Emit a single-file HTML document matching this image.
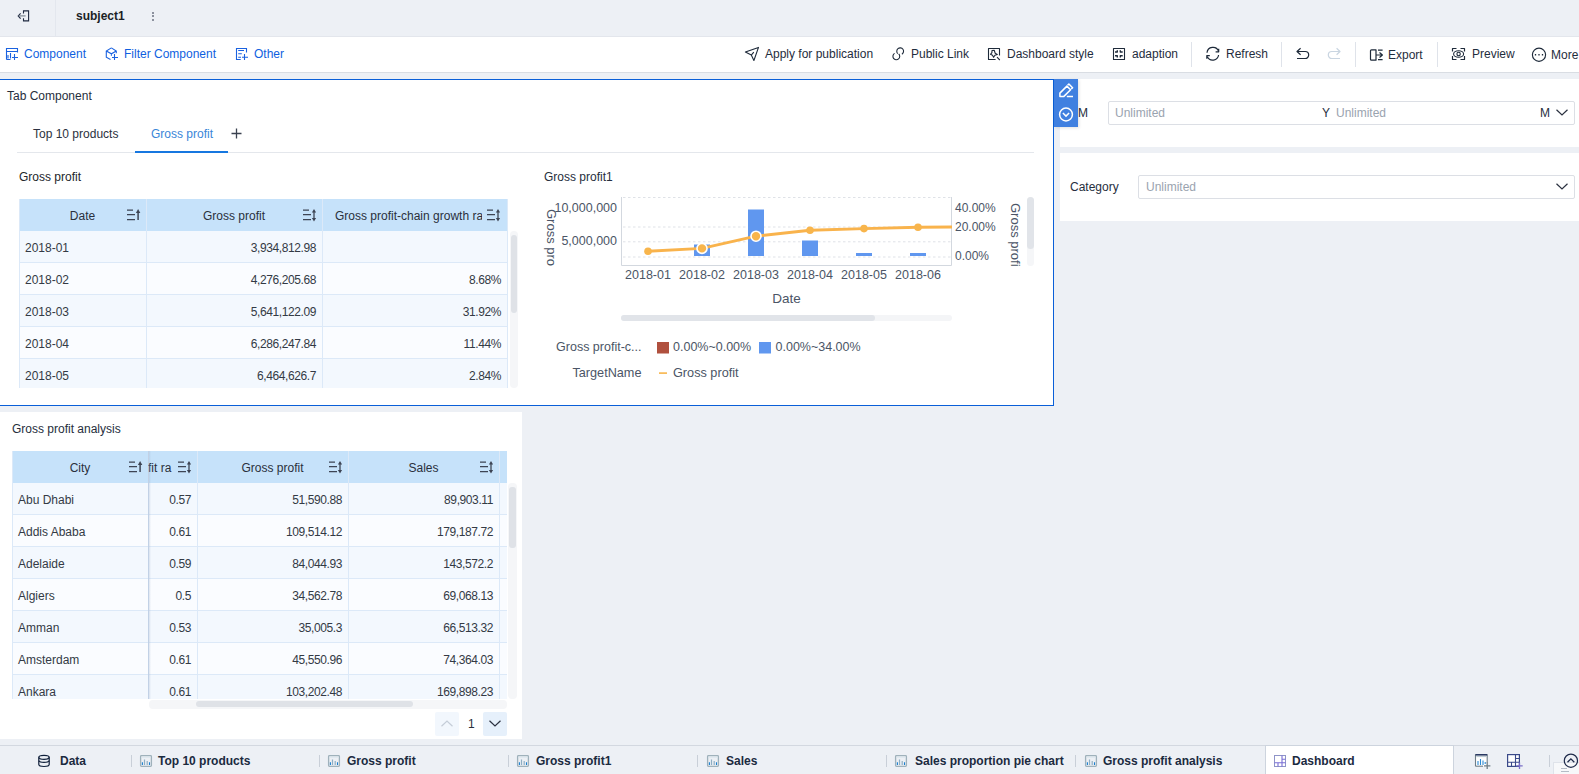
<!DOCTYPE html>
<html><head><meta charset="utf-8">
<style>
*{box-sizing:border-box;margin:0;padding:0}
html,body{width:1579px;height:774px;overflow:hidden;background:#edf0f5;font-family:"Liberation Sans",sans-serif;font-size:12px;color:#262e3d}
.a{position:absolute}
.t{position:absolute;white-space:nowrap;line-height:14px}
svg{position:absolute;overflow:visible}
#hdr{left:0;top:0;width:1579px;height:37px;background:#edf0f5}
#tb{left:0;top:36px;width:1579px;height:37px;background:#fff;border-top:1px solid #e3e6ec;border-bottom:1px solid #d9dde3}
.blue{color:#0f5fe0}
.dk{color:#1f2d3d}
.num{letter-spacing:-0.4px}
.num{letter-spacing:-0.4px}
.num{letter-spacing:-0.4px}
.num{letter-spacing:-0.4px}
.num{letter-spacing:-0.4px}
.sep{position:absolute;width:1px;background:#dfe3ea}
</style></head><body>
<!-- header -->
<div id="hdr" class="a">
  <div class="a" style="left:55px;top:0;width:1px;height:37px;background:#e3e7ee"></div>
  <svg style="left:0;top:0" width="60" height="36" viewBox="0 0 60 36" fill="none" stroke-width="1.1">
    <path d="M23.5 13.6V10.9H28.6V20.9H23.5V18.2" stroke="#1f2940"/>
    <path d="M20.6 13.3L18.2 15.9L20.6 18.6" stroke="#1f2940"/><path d="M18.6 15.9H25.6" stroke="#7d8791" stroke-width="1.2"/>
  </svg>
  <div class="t" style="left:76px;top:9px;font-weight:700;font-size:12px;color:#1b1f26">subject1</div>
  <div class="a" style="left:152px;top:11.5px;width:2px;height:2px;background:#6b7280;border-radius:1px"></div>
  <div class="a" style="left:152px;top:15px;width:2px;height:2px;background:#6b7280;border-radius:1px"></div>
  <div class="a" style="left:152px;top:18.5px;width:2px;height:2px;background:#6b7280;border-radius:1px"></div>
</div>
<!-- toolbar -->
<div id="tb" class="a"></div>
<!-- toolbar left -->
<div class="t blue" style="left:24px;top:47px">Component</div>
<div class="t blue" style="left:124px;top:47px">Filter Component</div>
<div class="t blue" style="left:254px;top:47px">Other</div>
<!-- toolbar right -->
<div class="t dk" style="left:765px;top:47px">Apply for publication</div>
<div class="t dk" style="left:911px;top:47px">Public Link</div>
<div class="t dk" style="left:1007px;top:47px">Dashboard style</div>
<div class="t dk" style="left:1132px;top:47px">adaption</div>
<div class="sep" style="left:1191px;top:42px;height:25px"></div>
<div class="t dk" style="left:1226px;top:47px">Refresh</div>
<div class="sep" style="left:1281px;top:42px;height:25px"></div>
<div class="sep" style="left:1355px;top:42px;height:25px"></div>
<div class="t dk" style="left:1388px;top:48px">Export</div>
<div class="sep" style="left:1437px;top:42px;height:25px"></div>
<div class="t dk" style="left:1472px;top:47px">Preview</div>
<div class="t dk" style="left:1551px;top:48px">More</div>
<svg style="left:0;top:0" width="1579" height="80" viewBox="0 0 1579 80" fill="none" stroke-width="1.1">
 <g stroke="#1a62e0">
  <!-- component -->
  <path d="M6.5 59.5V48.5H17.5V52.5M6.5 51.5H17.5M6.5 59.5H10.5M8 55V58.5M10.5 53V58.5M14.5 54V60M12 57.5H18" />
  <!-- filter component -->
  <path d="M111.4 47.9L116.3 51V53.3M111.4 47.9L106.3 51V57.2L110.5 59.5M106.3 51L111.4 53.8L116.3 51M111.4 53.8V55.8M114.5 54V60M112 57.5H118"/>
  <!-- other -->
  <path d="M240.7 59.5H236.5V48.5H246.5V52.5M238.2 50.5H244M238.2 53.7H241.8M238.2 57.3H241M244.5 54V60M242 57.3H248"/>
 </g>
 <g stroke="#1e2a3a" stroke-linejoin="round">
  <path d="M745.4 52L758.5 47.4L753.9 60.5L751.3 55.1Z"/><path d="M751.3 55.1L753.8 52.2"/>
  <path d="M897.8 53.7A3.4 3.4 0 1 1 901.9 54.2"/>
  <path d="M894.6 53.4A3.4 3.4 0 1 0 898.7 53.9"/>
  <path d="M999.5 55.6V48.5H988.5V59.5H995.6M997 57.2L999.8 60M994.2 50.3L995.2 53.2L997.3 54.4L994.9 55.3L993.6 57.3L992.5 55.2L990.5 54.3L991.9 52.6L992 50.5Z"/>
  <path d="M1113.5 48.5H1124.5V59.5H1113.5Z"/><path d="M1115 52H1117.3V50.2M1122.7 52H1120.3V50.2M1115 55.7H1117.3V57.6M1122.7 55.7H1120.3V57.6" stroke-width="1.4"/>
  <path d="M1207 52.8A6 6 0 0 1 1218.6 51.3M1215.6 51.8H1218.7V48.7M1218.6 55A6 6 0 0 1 1207.3 56.8M1209.8 55.6H1206.8V58.8" stroke-width="1.2"/>
  <path d="M1300.6 48.3L1297 51.5L1300.6 54.7M1297 51.5H1305.2A3.5 3.5 0 0 1 1305.2 58.5H1297" stroke-width="1.2"/>
  <path d="M1336.6 48.3L1340 51.5L1336.6 54.7M1340 51.5H1331.8A3.5 3.5 0 0 0 1331.8 58.5H1340" stroke="#c9d5e1" stroke-width="1.2"/>
  <path d="M1376 49.8H1371.5Q1370.5 49.8 1370.5 50.8V59.2Q1370.5 60.2 1371.5 60.2H1376ZM1378 50.2H1382.6M1378 59.6H1382.6M1376.5 55H1382.2M1379.5 52.5L1382.4 55L1379.5 57.5" stroke-width="1.2"/>
  <path d="M1452.5 51.5V48.5H1456.5M1460.5 48.5H1464.5V51.5M1464.5 56V59.5H1460.5M1456.5 59.5H1452.5V56" stroke-width="1.2"/>
  <ellipse cx="1458.6" cy="54" rx="5" ry="3.2"/><circle cx="1458.6" cy="54" r="1.7"/>
  <circle cx="1539" cy="54.7" r="6.6" stroke-width="1.15"/>
  <path d="M1535.5 54V55.5M1539 54V55.5M1542.5 54V55.5" stroke-width="1.3"/>
 </g>
</svg>
<!-- GENERATED -->
<!-- canvas: tab component -->
<div class="a" style="left:-1px;top:79px;width:1055px;height:327px;background:#fff;border:1px solid #0a5fd8"></div>
<div class="t" style="left:7px;top:89px;color:#262e3d">Tab Component</div>
<div class="a" style="left:17px;top:152px;width:1017px;height:1px;background:#e4e7ec"></div>
<div class="t" style="left:33px;top:127px;color:#2b3140">Top 10 products</div>
<div class="t" style="left:151px;top:127px;color:#3a86d8">Gross profit</div>
<div class="a" style="left:135px;top:151px;width:93px;height:2px;background:#1677e0"></div>
<svg style="left:231px;top:128px" width="11" height="11" viewBox="0 0 11 11" stroke="#3b4250" stroke-width="1.3"><path d="M5.5 0.5v10M0.5 5.5h10"/></svg>
<!-- right filter panels -->
<div class="a" style="left:1060px;top:79px;width:519px;height:68px;background:#fff"></div>
<div class="t" style="left:1078px;top:106px;color:#262e3d">M</div>
<div class="a" style="left:1108px;top:101px;width:467px;height:24px;border:1px solid #dcdfe5;border-radius:2px;background:#fff"></div>
<div class="t" style="left:1115px;top:106px;color:#9aa3af">Unlimited</div>
<div class="t" style="left:1322px;top:106px;color:#262e3d">Y</div>
<div class="t" style="left:1336px;top:106px;color:#9aa3af">Unlimited</div>
<div class="t" style="left:1540px;top:106px;color:#262e3d">M</div>
<svg style="left:1556px;top:109px" width="12" height="7" viewBox="0 0 12 7" fill="none" stroke="#2b3140" stroke-width="1.2"><path d="M0.5 0.7L6 6l5.5-5.3"/></svg>
<div class="a" style="left:1060px;top:153px;width:519px;height:68px;background:#fff"></div>
<div class="t" style="left:1070px;top:180px;color:#262e3d">Category</div>
<div class="a" style="left:1138px;top:175px;width:437px;height:24px;border:1px solid #dcdfe5;border-radius:2px;background:#fff"></div>
<div class="t" style="left:1146px;top:180px;color:#9aa3af">Unlimited</div>
<svg style="left:1556px;top:183px" width="12" height="7" viewBox="0 0 12 7" fill="none" stroke="#2b3140" stroke-width="1.2"><path d="M0.5 0.7L6 6l5.5-5.3"/></svg>
<!-- side buttons -->
<div class="a" style="left:1054px;top:79px;width:24px;height:48px;background:#4080e0;box-shadow:1px 1px 3px rgba(0,0,0,.12)"></div>
<svg style="left:0;top:0" width="1579" height="130" viewBox="0 0 1579 130" fill="none" stroke="#fff" stroke-width="1.5" stroke-linejoin="round">
  <path d="M1059.9 96.4V93.1L1066.9 86.1L1070.6 89.8L1063.9 96.4Z"/><path d="M1067.6 85.3L1068.9 84L1072.6 87.7L1071.3 89"/><path d="M1066.8 96.5H1073"/>
</svg>
<svg style="left:0;top:0" width="1579" height="130" viewBox="0 0 1579 130" fill="none" stroke="#fff" stroke-width="1.5">
  <circle cx="1066" cy="114.5" r="6.4"/><path d="M1062.9 113L1066 116.1L1069.1 113"/>
</svg>
<!-- bottom panel -->
<div class="a" style="left:0;top:412px;width:522px;height:327px;background:#fff"></div>
<div class="t" style="left:12px;top:422px;color:#262e3d">Gross profit analysis</div>
<div class="t" style="left:19px;top:170px;color:#23262b">Gross profit</div>
<div class="a" style="left:19px;top:199px;width:488px;height:32px;background:#c6e2fa"></div>
<div class="a" style="left:19px;top:231px;width:488px;height:32px;background:#f3f8fe"></div>
<div class="a" style="left:19px;top:262px;width:488px;height:1px;background:#dce9f8"></div>
<div class="t" style="left:25px;top:241px;color:#333a45;">2018-01</div>
<div class="t num" style="right:1263px;top:241px;color:#333a45;">3,934,812.98</div>
<div class="t num" style="right:1078px;top:241px;color:#333a45;"></div>
<div class="a" style="left:19px;top:263px;width:488px;height:32px;background:#fafcff"></div>
<div class="a" style="left:19px;top:294px;width:488px;height:1px;background:#dce9f8"></div>
<div class="t" style="left:25px;top:273px;color:#333a45;">2018-02</div>
<div class="t num" style="right:1263px;top:273px;color:#333a45;">4,276,205.68</div>
<div class="t num" style="right:1078px;top:273px;color:#333a45;">8.68%</div>
<div class="a" style="left:19px;top:295px;width:488px;height:32px;background:#f3f8fe"></div>
<div class="a" style="left:19px;top:326px;width:488px;height:1px;background:#dce9f8"></div>
<div class="t" style="left:25px;top:305px;color:#333a45;">2018-03</div>
<div class="t num" style="right:1263px;top:305px;color:#333a45;">5,641,122.09</div>
<div class="t num" style="right:1078px;top:305px;color:#333a45;">31.92%</div>
<div class="a" style="left:19px;top:327px;width:488px;height:32px;background:#fafcff"></div>
<div class="a" style="left:19px;top:358px;width:488px;height:1px;background:#dce9f8"></div>
<div class="t" style="left:25px;top:337px;color:#333a45;">2018-04</div>
<div class="t num" style="right:1263px;top:337px;color:#333a45;">6,286,247.84</div>
<div class="t num" style="right:1078px;top:337px;color:#333a45;">11.44%</div>
<div class="a" style="left:19px;top:359px;width:488px;height:29px;background:#f3f8fe"></div>
<div class="t" style="left:25px;top:369px;color:#333a45;">2018-05</div>
<div class="t num" style="right:1263px;top:369px;color:#333a45;">6,464,626.7</div>
<div class="t num" style="right:1078px;top:369px;color:#333a45;">2.84%</div>
<div class="a" style="left:146px;top:199px;width:1px;height:189px;background:#dce9f8"></div>
<div class="a" style="left:322px;top:199px;width:1px;height:189px;background:#dce9f8"></div>
<div class="a" style="left:19px;top:199px;width:1px;height:189px;background:#dce9f8"></div>
<div class="a" style="left:507px;top:199px;width:1px;height:189px;background:#dce9f8"></div>
<div class="t" style="left:19px;width:127px;text-align:center;top:209px;color:#2a303c">Date</div>
<svg style="left:127px;top:209px" width="14" height="13" viewBox="0 0 14 13" fill="none" stroke="#3d4454" stroke-width="1.2"><path d="M0 1.2h6M0 5.6h8M0 10.6h8"/><path d="M11.1 11V3" stroke-width="1.5"/><path d="M8.9 4L11.1 0 13.3 4z" fill="#3d4454" stroke="none"/></svg>
<div class="t" style="left:146px;width:176px;text-align:center;top:209px;color:#2a303c">Gross profit</div>
<svg style="left:303px;top:209px" width="14" height="13" viewBox="0 0 14 13" fill="none" stroke="#3d4454" stroke-width="1.2"><path d="M0 1.2h6M0 5.6h8M0 10.6h8"/><path d="M11 2.5v8" stroke-width="1.3"/><path d="M8.9 3.6L11 0 13.1 3.6zM8.9 9L11 12.6 13.1 9z" fill="#3d4454" stroke="none"/></svg>
<div class="t" style="left:335px;width:147px;overflow:hidden;top:209px;color:#2a303c">Gross profit-chain growth ra</div>
<svg style="left:487px;top:209px" width="14" height="13" viewBox="0 0 14 13" fill="none" stroke="#3d4454" stroke-width="1.2"><path d="M0 1.2h6M0 5.6h8M0 10.6h8"/><path d="M11 2.5v8" stroke-width="1.3"/><path d="M8.9 3.6L11 0 13.1 3.6zM8.9 9L11 12.6 13.1 9z" fill="#3d4454" stroke="none"/></svg>
<div class="a" style="left:510px;top:231px;width:8px;height:157px;background:#f5f6f8;border-radius:4px"></div>
<div class="a" style="left:511px;top:235px;width:6px;height:78px;background:#dfe2e7;border-radius:3px"></div><!-- chart -->
<div class="t" style="left:544px;top:170px;color:#262e3d">Gross profit1</div>
<svg style="left:0;top:0" width="1579" height="400" viewBox="0 0 1579 400" font-family="Liberation Sans" >
  <g stroke="#dfe2e7" stroke-width="1" stroke-dasharray="2.5 2.5">
    <path d="M623 197.5H951M623 227H951M623 241.8H951M623 257H951"/>
  </g>
  <path d="M621.5 197V265.5H951.5V197" fill="none" stroke="#d3d8df" stroke-width="1"/>
  <g fill="#6097ef">
    <rect x="694" y="244.5" width="16" height="11.5"/>
    <rect x="748" y="209.5" width="16" height="46.5"/>
    <rect x="802" y="240.5" width="16" height="15.5"/>
    <rect x="856" y="253" width="16" height="3"/>
    <rect x="910" y="253" width="16" height="3"/>
  </g>
  <polyline points="648,251.3 702,248.4 756,236.2 810,230.3 864,228.6 918,227.3 952,227" fill="none" stroke="#f9b34c" stroke-width="2.9" stroke-linejoin="round"/>
  <g fill="#f8b54c">
    <circle cx="648" cy="251.3" r="3.8"/>
    <circle cx="702" cy="248.4" r="5" stroke="#fff" stroke-width="1.6"/>
    <circle cx="756" cy="236.2" r="5" stroke="#fff" stroke-width="1.6"/>
    <circle cx="810" cy="230.3" r="3.8"/>
    <circle cx="864" cy="228.6" r="3.8"/>
    <circle cx="918" cy="227.3" r="3.8"/>
  </g>
  <g fill="#4b5566" font-size="12.5">
    <text x="617" y="212" text-anchor="end">10,000,000</text>
    <text x="617" y="245" text-anchor="end">5,000,000</text>
    <text x="955" y="212" font-size="12">40.00%</text>
    <text x="955" y="230.5" font-size="12">20.00%</text>
    <text x="955" y="260" font-size="12">0.00%</text>
    <g text-anchor="middle">
      <text x="648" y="279.3">2018-01</text>
      <text x="702" y="279.3">2018-02</text>
      <text x="756" y="279.3">2018-03</text>
      <text x="810" y="279.3">2018-04</text>
      <text x="864" y="279.3">2018-05</text>
      <text x="918" y="279.3">2018-06</text>
      <text x="786.5" y="302.5" font-size="13.5">Date</text>
    </g>
  </g>
  <defs>
    <clipPath id="cl"><rect x="540" y="197" width="30" height="69"/></clipPath>
    <clipPath id="cr"><rect x="1000" y="197" width="30" height="69"/></clipPath>
  </defs>
  <g clip-path="url(#cl)"><text transform="translate(547,209) rotate(90)" fill="#4b5566" font-size="13">Gross profit</text></g>
  <g clip-path="url(#cr)"><text transform="translate(1011,203) rotate(90)" fill="#4b5566" font-size="13">Gross profit</text></g>
  <rect x="621" y="315" width="331" height="6" rx="3" fill="#f4f5f7"/>
  <rect x="621" y="315" width="254" height="6" rx="3" fill="#e1e4e9"/>
  <rect x="1027" y="197" width="7" height="69" rx="3.5" fill="#f5f6f8"/>
  <rect x="1027" y="197" width="7" height="52" rx="3.5" fill="#e1e4e9"/>
  <!-- legend -->
  <g font-size="12.5" fill="#4b5566">
    <text x="641.5" y="351.3" text-anchor="end">Gross profit-c...</text>
    <rect x="657" y="342" width="12" height="11.5" fill="#b0503e"/>
    <text x="673" y="351.3">0.00%~0.00%</text>
    <rect x="759" y="342" width="12" height="11.5" fill="#6097ef"/>
    <text x="775.5" y="351.3">0.00%~34.00%</text>
    <text x="641.5" y="377" text-anchor="end" font-size="12.7">TargetName</text>
    <rect x="659" y="372.3" width="8" height="1.6" fill="#f8b54c"/>
    <text x="673" y="377" font-size="12.7">Gross profit</text>
  </g>
</svg>
<!-- bottom bar -->
<div class="a" style="left:0;top:745px;width:1579px;height:29px;background:#edf0f5;border-top:1px solid #d3d8e0"></div>
<svg style="left:0;top:0" width="1579" height="774" viewBox="0 0 1579 774" fill="none" stroke="#0f1f3a" stroke-width="1.2">
  <path d="M38.8 757.2C38.8 755.8 41 755.3 44 755.3S49.2 755.8 49.2 757.2V764.6C49.2 766 47 766.5 44 766.5S38.8 766 38.8 764.6Z"/>
  <path d="M38.8 757.5C39.5 758.8 41.5 759.4 44 759.4S48.5 758.8 49.2 757.5M38.8 760.8C39.5 762 41.5 762.4 44 762.4S48.5 762 49.2 760.8"/>
</svg>
<div class="t" style="left:60px;top:754px;font-weight:700;color:#1b2a3f">Data</div>
<div class="a" style="left:131px;top:755px;width:1px;height:12px;background:#c9cfd8"></div>
<svg style="left:0;top:0" width="1579" height="774" viewBox="0 0 1579 774" fill="none"><rect x="140.6" y="755.6" width="10.8" height="10.8" rx="0.8" stroke="#9fb1bb" stroke-width="1.3"/><path d="M141.5 757.3H150.5" stroke="#dde8ef" stroke-width="1"/><path d="M142.4 762.3V765M149.5 762.3V765" stroke="#1a7fd0" stroke-width="1.1"/><path d="M144.5 759.5V765M147.2 761V765" stroke="#8eaec4" stroke-width="1.2"/></svg>
<div class="t" style="left:158px;top:754px;font-weight:700;color:#1b2a3f">Top 10 products</div>
<div class="a" style="left:319px;top:755px;width:1px;height:12px;background:#c9cfd8"></div>
<svg style="left:0;top:0" width="1579" height="774" viewBox="0 0 1579 774" fill="none"><rect x="328.6" y="755.6" width="10.8" height="10.8" rx="0.8" stroke="#9fb1bb" stroke-width="1.3"/><path d="M329.5 757.3H338.5" stroke="#dde8ef" stroke-width="1"/><path d="M330.4 762.3V765M337.5 762.3V765" stroke="#1a7fd0" stroke-width="1.1"/><path d="M332.5 759.5V765M335.2 761V765" stroke="#8eaec4" stroke-width="1.2"/></svg>
<div class="t" style="left:347px;top:754px;font-weight:700;color:#1b2a3f">Gross profit</div>
<div class="a" style="left:508px;top:755px;width:1px;height:12px;background:#c9cfd8"></div>
<svg style="left:0;top:0" width="1579" height="774" viewBox="0 0 1579 774" fill="none"><rect x="517.6" y="755.6" width="10.8" height="10.8" rx="0.8" stroke="#9fb1bb" stroke-width="1.3"/><path d="M518.5 757.3H527.5" stroke="#dde8ef" stroke-width="1"/><path d="M519.4 762.3V765M526.5 762.3V765" stroke="#1a7fd0" stroke-width="1.1"/><path d="M521.5 759.5V765M524.2 761V765" stroke="#8eaec4" stroke-width="1.2"/></svg>
<div class="t" style="left:536px;top:754px;font-weight:700;color:#1b2a3f">Gross profit1</div>
<div class="a" style="left:697px;top:755px;width:1px;height:12px;background:#c9cfd8"></div>
<svg style="left:0;top:0" width="1579" height="774" viewBox="0 0 1579 774" fill="none"><rect x="707.6" y="755.6" width="10.8" height="10.8" rx="0.8" stroke="#9fb1bb" stroke-width="1.3"/><path d="M708.5 757.3H717.5" stroke="#dde8ef" stroke-width="1"/><path d="M709.4 762.3V765M716.5 762.3V765" stroke="#1a7fd0" stroke-width="1.1"/><path d="M711.5 759.5V765M714.2 761V765" stroke="#8eaec4" stroke-width="1.2"/></svg>
<div class="t" style="left:726px;top:754px;font-weight:700;color:#1b2a3f">Sales</div>
<div class="a" style="left:886px;top:755px;width:1px;height:12px;background:#c9cfd8"></div>
<svg style="left:0;top:0" width="1579" height="774" viewBox="0 0 1579 774" fill="none"><rect x="895.6" y="755.6" width="10.8" height="10.8" rx="0.8" stroke="#9fb1bb" stroke-width="1.3"/><path d="M896.5 757.3H905.5" stroke="#dde8ef" stroke-width="1"/><path d="M897.4 762.3V765M904.5 762.3V765" stroke="#1a7fd0" stroke-width="1.1"/><path d="M899.5 759.5V765M902.2 761V765" stroke="#8eaec4" stroke-width="1.2"/></svg>
<div class="t" style="left:915px;top:754px;font-weight:700;color:#1b2a3f">Sales proportion pie chart</div>
<div class="a" style="left:1075px;top:755px;width:1px;height:12px;background:#c9cfd8"></div>
<svg style="left:0;top:0" width="1579" height="774" viewBox="0 0 1579 774" fill="none"><rect x="1085.6" y="755.6" width="10.8" height="10.8" rx="0.8" stroke="#9fb1bb" stroke-width="1.3"/><path d="M1086.5 757.3H1095.5" stroke="#dde8ef" stroke-width="1"/><path d="M1087.4 762.3V765M1094.5 762.3V765" stroke="#1a7fd0" stroke-width="1.1"/><path d="M1089.5 759.5V765M1092.2 761V765" stroke="#8eaec4" stroke-width="1.2"/></svg>
<div class="t" style="left:1103px;top:754px;font-weight:700;color:#1b2a3f">Gross profit analysis</div>
<div class="a" style="left:1265px;top:745px;width:189px;height:29px;background:#fff;border:1px solid #cdd4de;border-bottom:none"></div>
<svg style="left:0;top:0" width="1579" height="774" viewBox="0 0 1579 774" fill="none">
 <rect x="1274.5" y="755.5" width="11" height="11" fill="#fff" stroke="#8f94c8" stroke-width="1"/>
 <path d="M1282 755.5V766.5M1274.5 762.8H1285.5M1278 762.8V766.5M1282 759.2H1285.5" stroke="#7a6fd6" stroke-width="1.1"/>
 <rect x="1475.5" y="754.8" width="11.7" height="11.4" fill="#fff" stroke="none"/><path d="M1475.5 766.2V754.8H1487.2V763" stroke="#6f7d86" stroke-width="1.1"/>
 <path d="M1475.5 754.8H1487.2" stroke="#1f2f5c" stroke-width="1.4"/>
 <path d="M1476.3 756.6H1486.4" stroke="#b9c8cf" stroke-width="1"/>
 <path d="M1475.5 766.2H1483" stroke="#6f7d86" stroke-width="1.1"/>
 <path d="M1478 761V765M1480.5 759V765M1483 760.5V765M1485.2 762V764" stroke="#2b8ad6" stroke-width="1.1"/>
 <path d="M1487.2 762.5V769M1484 765.8H1490.4" stroke="#6f7d86" stroke-width="1.3"/>
 <rect x="1507.6" y="754.6" width="11.8" height="11.8" fill="#fff" stroke="#3b4a8a" stroke-width="1.2"/>
 <path d="M1515.5 754.6V766.4M1507.6 762.3H1519.4M1515.5 758.5H1519.4M1511.5 762.3V766.4" stroke="#3b4a8a" stroke-width="1.1"/>
 <path d="M1519.5 762.5V769M1516.3 765.8H1522.7" stroke="#7b70c8" stroke-width="1.3"/>
</svg>
<div class="t" style="left:1292px;top:754px;font-weight:700;color:#1b2a3f">Dashboard</div>
<div class="a" style="left:1549px;top:755px;width:1px;height:12px;background:#c9cfd8"></div>
<div class="a" style="left:1553px;top:762px;width:30px;height:14px;background:#f7f8fa;border:1px solid #dfe3ea"></div>
<svg style="left:0;top:0" width="1579" height="774" viewBox="0 0 1579 774" fill="none">
 <path d="M1561 771.5H1569M1561 768.5H1567" stroke="#b5bcc6" stroke-width="1"/>
 <circle cx="1570.9" cy="760.7" r="6.6" stroke="#1e2a4a" stroke-width="1.2"/>
 <path d="M1567.5 762.3L1570.9 758.9L1574.3 762.3" stroke="#1e2a4a" stroke-width="1.3"/>
</svg>

<div class="a" style="left:12px;top:451px;width:495px;height:32px;background:#c6e2fa"></div>
<div class="a" style="left:12px;top:483px;width:495px;height:32px;background:#f3f8fe"></div>
<div class="a" style="left:12px;top:514px;width:495px;height:1px;background:#dce9f8"></div>
<div class="t" style="left:18px;top:493px;color:#333a45;">Abu Dhabi</div>
<div class="t num" style="right:1388px;top:493px;color:#333a45;">0.57</div>
<div class="t num" style="right:1237px;top:493px;color:#333a45;">51,590.88</div>
<div class="t num" style="right:1086px;top:493px;color:#333a45;">89,903.11</div>
<div class="a" style="left:12px;top:515px;width:495px;height:32px;background:#fafcff"></div>
<div class="a" style="left:12px;top:546px;width:495px;height:1px;background:#dce9f8"></div>
<div class="t" style="left:18px;top:525px;color:#333a45;">Addis Ababa</div>
<div class="t num" style="right:1388px;top:525px;color:#333a45;">0.61</div>
<div class="t num" style="right:1237px;top:525px;color:#333a45;">109,514.12</div>
<div class="t num" style="right:1086px;top:525px;color:#333a45;">179,187.72</div>
<div class="a" style="left:12px;top:547px;width:495px;height:32px;background:#f3f8fe"></div>
<div class="a" style="left:12px;top:578px;width:495px;height:1px;background:#dce9f8"></div>
<div class="t" style="left:18px;top:557px;color:#333a45;">Adelaide</div>
<div class="t num" style="right:1388px;top:557px;color:#333a45;">0.59</div>
<div class="t num" style="right:1237px;top:557px;color:#333a45;">84,044.93</div>
<div class="t num" style="right:1086px;top:557px;color:#333a45;">143,572.2</div>
<div class="a" style="left:12px;top:579px;width:495px;height:32px;background:#fafcff"></div>
<div class="a" style="left:12px;top:610px;width:495px;height:1px;background:#dce9f8"></div>
<div class="t" style="left:18px;top:589px;color:#333a45;">Algiers</div>
<div class="t num" style="right:1388px;top:589px;color:#333a45;">0.5</div>
<div class="t num" style="right:1237px;top:589px;color:#333a45;">34,562.78</div>
<div class="t num" style="right:1086px;top:589px;color:#333a45;">69,068.13</div>
<div class="a" style="left:12px;top:611px;width:495px;height:32px;background:#f3f8fe"></div>
<div class="a" style="left:12px;top:642px;width:495px;height:1px;background:#dce9f8"></div>
<div class="t" style="left:18px;top:621px;color:#333a45;">Amman</div>
<div class="t num" style="right:1388px;top:621px;color:#333a45;">0.53</div>
<div class="t num" style="right:1237px;top:621px;color:#333a45;">35,005.3</div>
<div class="t num" style="right:1086px;top:621px;color:#333a45;">66,513.32</div>
<div class="a" style="left:12px;top:643px;width:495px;height:32px;background:#fafcff"></div>
<div class="a" style="left:12px;top:674px;width:495px;height:1px;background:#dce9f8"></div>
<div class="t" style="left:18px;top:653px;color:#333a45;">Amsterdam</div>
<div class="t num" style="right:1388px;top:653px;color:#333a45;">0.61</div>
<div class="t num" style="right:1237px;top:653px;color:#333a45;">45,550.96</div>
<div class="t num" style="right:1086px;top:653px;color:#333a45;">74,364.03</div>
<div class="a" style="left:12px;top:675px;width:495px;height:24px;background:#f3f8fe"></div>
<div class="t" style="left:18px;top:685px;color:#333a45;">Ankara</div>
<div class="t num" style="right:1388px;top:685px;color:#333a45;">0.61</div>
<div class="t num" style="right:1237px;top:685px;color:#333a45;">103,202.48</div>
<div class="t num" style="right:1086px;top:685px;color:#333a45;">169,898.23</div>
<div class="a" style="left:148px;top:451px;width:1px;height:248px;background:#dce9f8"></div>
<div class="a" style="left:197px;top:451px;width:1px;height:248px;background:#dce9f8"></div>
<div class="a" style="left:348px;top:451px;width:1px;height:248px;background:#dce9f8"></div>
<div class="a" style="left:12px;top:451px;width:1px;height:248px;background:#dce9f8"></div>
<div class="a" style="left:499px;top:451px;width:1px;height:248px;background:#dce9f8"></div>
<div class="t" style="left:12px;width:136px;text-align:center;top:461px;color:#2a303c">City</div>
<svg style="left:129px;top:461px" width="14" height="13" viewBox="0 0 14 13" fill="none" stroke="#3d4454" stroke-width="1.2"><path d="M0 1.2h6M0 5.6h8M0 10.6h8"/><path d="M11.1 11V3" stroke-width="1.5"/><path d="M8.9 4L11.1 0 13.3 4z" fill="#3d4454" stroke="none"/></svg>
<svg style="left:178px;top:461px" width="14" height="13" viewBox="0 0 14 13" fill="none" stroke="#3d4454" stroke-width="1.2"><path d="M0 1.2h6M0 5.6h8M0 10.6h8"/><path d="M11 2.5v8" stroke-width="1.3"/><path d="M8.9 3.6L11 0 13.1 3.6zM8.9 9L11 12.6 13.1 9z" fill="#3d4454" stroke="none"/></svg>
<div class="t" style="left:197px;width:151px;text-align:center;top:461px;color:#2a303c">Gross profit</div>
<svg style="left:329px;top:461px" width="14" height="13" viewBox="0 0 14 13" fill="none" stroke="#3d4454" stroke-width="1.2"><path d="M0 1.2h6M0 5.6h8M0 10.6h8"/><path d="M11 2.5v8" stroke-width="1.3"/><path d="M8.9 3.6L11 0 13.1 3.6zM8.9 9L11 12.6 13.1 9z" fill="#3d4454" stroke="none"/></svg>
<div class="t" style="left:348px;width:151px;text-align:center;top:461px;color:#2a303c">Sales</div>
<svg style="left:480px;top:461px" width="14" height="13" viewBox="0 0 14 13" fill="none" stroke="#3d4454" stroke-width="1.2"><path d="M0 1.2h6M0 5.6h8M0 10.6h8"/><path d="M11 2.5v8" stroke-width="1.3"/><path d="M8.9 3.6L11 0 13.1 3.6zM8.9 9L11 12.6 13.1 9z" fill="#3d4454" stroke="none"/></svg>
<div class="t" style="left:148px;top:461px;color:#2a303c;width:26px;overflow:hidden">fit ra</div>
<div class="a" style="left:148px;top:451px;width:3px;height:248px;background:linear-gradient(90deg,rgba(150,170,200,.45),rgba(160,180,210,0))"></div>
<div class="a" style="left:499px;top:451px;width:1px;height:248px;background:#dce9f8"></div>
<div class="a" style="left:508px;top:483px;width:9px;height:216px;background:#f5f6f8;border-radius:4px"></div>
<div class="a" style="left:509px;top:487px;width:7px;height:61px;background:#dfe2e7;border-radius:3px"></div>
<div class="a" style="left:149px;top:700px;width:358px;height:9px;background:#f5f6f8;border-radius:4px"></div>
<div class="a" style="left:196px;top:701px;width:217px;height:6px;background:#dfe2e7;border-radius:3px"></div>
<div class="a" style="left:435px;top:712px;width:24px;height:24px;background:#f2f7fd;border-radius:2px"></div>
<svg style="left:441px;top:720px" width="12" height="7" viewBox="0 0 12 7" fill="none" stroke="#c5cdd8" stroke-width="1.2"><path d="M0.5 6.3L6 1l5.5 5.3"/></svg>
<div class="t" style="left:468px;top:717px;color:#2a303c">1</div>
<div class="a" style="left:483px;top:712px;width:24px;height:24px;background:#e6f0fb;border-radius:2px"></div>
<svg style="left:489px;top:720px" width="12" height="7" viewBox="0 0 12 7" fill="none" stroke="#2b3140" stroke-width="1.2"><path d="M0.5 0.7L6 6l5.5-5.3"/></svg>

</body></html>
